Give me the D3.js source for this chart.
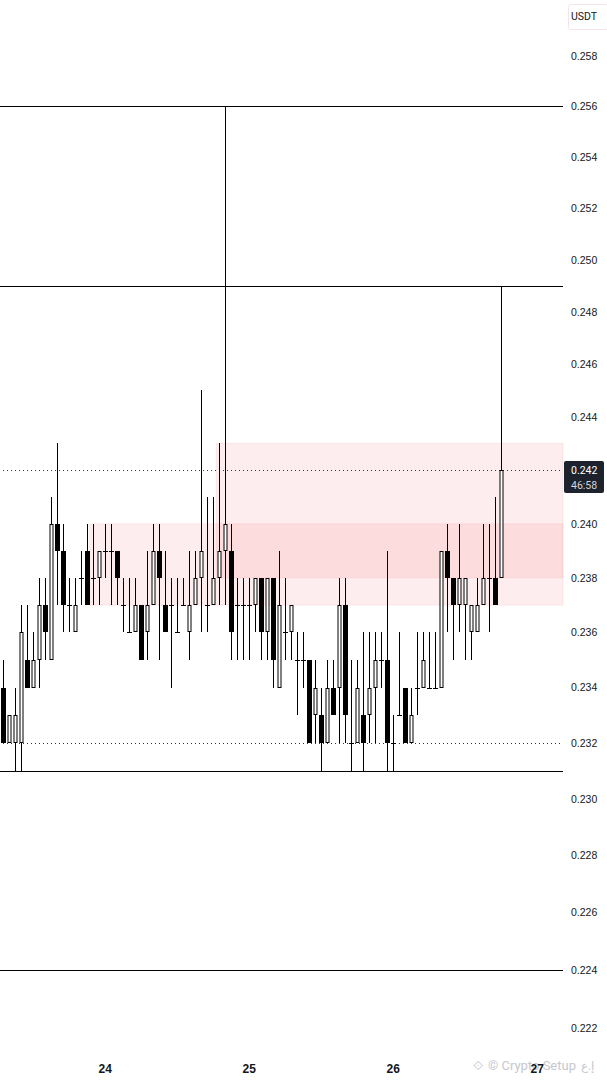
<!DOCTYPE html>
<html>
<head>
<meta charset="utf-8">
<script src="https://cdn.jsdelivr.net/npm/d3@7"></script>
<style>
  html, body { margin: 0; padding: 0; background: #ffffff; }
  svg { display: block; font-family: Roboto, "Liberation Sans", sans-serif; }
</style>
</head>
<body>
<svg id="chart" width="607" height="1080"></svg>
<script>
// hourly candles, index 0 = 23rd 07:00
var opens  = [0.234,0.232,0.232,0.232,0.235,0.234,0.235,0.237,0.235,0.240,0.239,0.237,0.236,0.238,0.239,0.238,0.238,0.239,0.239,0.239,
              0.237,0.236,0.236,0.237,0.236,0.237,0.239,0.237,0.237,0.236,0.237,0.236,0.237,0.238,0.237,0.237,0.238,0.239,0.239,0.237,
              0.237,0.237,0.237,0.238,0.236,0.238,0.234,0.236,0.236,0.235,0.235,0.235,0.233,0.233,0.232,0.234,0.234,0.237,0.232,0.232,
              0.233,0.233,0.234,0.235,0.235,0.232,0.233,0.234,0.232,0.234,0.234,0.234,0.234,0.234,0.239,0.238,0.237,0.237,0.236,0.236,
              0.237,0.238,0.238,0.238]
var highs  = [0.235,0.233,0.234,0.237,0.237,0.236,0.238,0.238,0.241,0.243,0.240,0.238,0.238,0.239,0.240,0.240,0.239,0.240,0.240,0.239,
              0.238,0.238,0.238,0.237,0.239,0.240,0.240,0.239,0.238,0.238,0.238,0.239,0.239,0.245,0.241,0.241,0.243,0.256,0.240,0.238,
              0.238,0.238,0.238,0.238,0.238,0.238,0.239,0.238,0.237,0.236,0.236,0.235,0.235,0.234,0.235,0.235,0.238,0.238,0.235,0.235,
              0.236,0.236,0.236,0.236,0.239,0.233,0.236,0.234,0.234,0.236,0.236,0.236,0.236,0.239,0.240,0.238,0.240,0.238,0.237,0.238,
              0.240,0.240,0.241,0.249]
var lows   = [0.232,0.232,0.231,0.231,0.234,0.234,0.234,0.235,0.235,0.237,0.236,0.236,0.236,0.237,0.237,0.237,0.237,0.238,0.237,0.237,
              0.236,0.236,0.236,0.235,0.235,0.237,0.235,0.236,0.234,0.236,0.237,0.235,0.237,0.236,0.236,0.237,0.237,0.237,0.235,0.235,
              0.235,0.235,0.236,0.235,0.235,0.234,0.234,0.235,0.235,0.233,0.234,0.232,0.232,0.231,0.232,0.233,0.232,0.232,0.231,0.232,
              0.231,0.232,0.232,0.234,0.231,0.231,0.233,0.232,0.232,0.233,0.234,0.234,0.234,0.234,0.236,0.235,0.236,0.235,0.235,0.236,
              0.237,0.236,0.237,0.238]
var closes = [0.232,0.233,0.233,0.236,0.234,0.235,0.237,0.236,0.240,0.239,0.237,0.237,0.237,0.238,0.237,0.238,0.239,0.239,0.239,0.238,
              0.237,0.236,0.237,0.235,0.237,0.239,0.238,0.236,0.237,0.236,0.237,0.237,0.238,0.239,0.237,0.238,0.239,0.240,0.236,0.237,
              0.237,0.237,0.238,0.236,0.238,0.235,0.237,0.236,0.237,0.235,0.235,0.232,0.234,0.232,0.234,0.233,0.237,0.233,0.232,0.234,
              0.232,0.234,0.235,0.235,0.232,0.232,0.233,0.232,0.233,0.234,0.235,0.234,0.234,0.239,0.238,0.237,0.238,0.238,0.237,0.237,
              0.238,0.238,0.237,0.242]

var priceTicks = [0.222,0.224,0.226,0.228,0.230,0.232,0.234,0.236,0.238,0.240,0.242,0.244,0.246,0.248,0.250,0.252,0.254,0.256,0.258]
var hLines = [0.256, 0.249, 0.231, 0.224]
var dottedLines = [0.242, 0.232]
// zones: [start candle index, low, high]
var zones = [[14.5, 0.237, 0.240], [35.6, 0.238, 0.243]]
var lastPrice = 0.242
var countdown = "46:58"

var dimensions = {
    width: 607,
    height: 1080,
    plotRight: 563,
    top: 56,
    bottom: 1028
}

var hour = 3600 * 1000
var t0 = new Date(2024, 0, 23, 7, 0)
var candles = opens.map((o, i) => ({
    t: new Date(t0.getTime() + i * hour),
    o: o, h: highs[i], l: lows[i], c: closes[i]
}))

var svg = d3.select("#chart")

var xScale = d3.scaleTime()
    .domain([new Date(t0.getTime() - 0.45 * hour), new Date(t0.getTime() + 93.38 * hour)])
    .range([0, dimensions.plotRight])

var yScale = d3.scaleLog()
    .domain([0.258, 0.222])
    .range([dimensions.top, dimensions.bottom])

var tOf = k => new Date(t0.getTime() + k * hour)

// zones
svg.append("g")
    .selectAll("rect")
    .data(zones)
    .enter()
    .append("rect")
    .attr("x", d => xScale(tOf(d[0])))
    .attr("y", d => yScale(d[2]))
    .attr("width", d => dimensions.plotRight - xScale(tOf(d[0])))
    .attr("height", d => yScale(d[1]) - yScale(d[2]))
    .attr("fill", "rgba(242, 54, 69, 0.09)")
    .attr("stroke", "rgba(242, 54, 69, 0.08)")

// horizontal levels
svg.append("g")
    .selectAll("line")
    .data(hLines)
    .enter()
    .append("line")
    .attr("x1", 0)
    .attr("x2", dimensions.plotRight)
    .attr("y1", d => Math.round(yScale(d)) + 0.5)
    .attr("y2", d => Math.round(yScale(d)) + 0.5)
    .attr("stroke", "#000")
    .attr("stroke-width", 1)

svg.append("g")
    .selectAll("line")
    .data(dottedLines)
    .enter()
    .append("line")
    .attr("x1", 3)
    .attr("x2", dimensions.plotRight)
    .attr("y1", d => Math.round(yScale(d)) + 0.5)
    .attr("y2", d => Math.round(yScale(d)) + 0.5)
    .attr("stroke", "#333")
    .attr("stroke-width", 1)
    .attr("stroke-dasharray", "1,3")

// candles
var cx = d => Math.round(xScale(d.t)) + 0.5
var candleG = svg.append("g")
    .selectAll(".candle")
    .data(candles)
    .enter()
    .append("g")
    .attr("class", "candle")

candleG.append("line")
    .attr("x1", cx)
    .attr("x2", cx)
    .attr("y1", d => Math.round(yScale(d.h)))
    .attr("y2", d => Math.round(yScale(d.l)))
    .attr("stroke", "#000")
    .attr("stroke-width", 1)

candleG.filter(d => d.c > d.o)
    .append("rect")
    .attr("x", d => cx(d) - 1.5)
    .attr("y", d => Math.round(yScale(d.c)) + 0.5)
    .attr("width", 3)
    .attr("height", d => Math.round(yScale(d.o)) - Math.round(yScale(d.c)) - 1)
    .attr("fill", "#fff")
    .attr("stroke", "#000")
    .attr("stroke-width", 1)

candleG.filter(d => d.c < d.o)
    .append("rect")
    .attr("x", d => cx(d) - 2.5)
    .attr("y", d => Math.round(yScale(d.o)))
    .attr("width", 5)
    .attr("height", d => Math.round(yScale(d.c)) - Math.round(yScale(d.o)))
    .attr("fill", "#000")

candleG.filter(d => d.c == d.o)
    .append("line")
    .attr("x1", d => cx(d) - 2.5)
    .attr("x2", d => cx(d) + 2.5)
    .attr("y1", d => Math.round(yScale(d.o)) + 0.5)
    .attr("y2", d => Math.round(yScale(d.o)) + 0.5)
    .attr("stroke", "#000")
    .attr("stroke-width", 1)

// price axis
var yAxisGen = d3.axisRight(yScale)
    .tickValues(priceTicks.filter(p => p != lastPrice))
    .tickFormat(d3.format(".3f"))
    .tickSize(0)
    .tickPadding(8)
var yAxis = svg.append("g")
    .call(yAxisGen)
    .attr("transform", `translate(${dimensions.plotRight}, 0)`)
yAxis.select(".domain").remove()
yAxis.selectAll("text")
    .attr("fill", "#131722")
    .style("font-size", "10.5px")

// USDT label
svg.append("rect")
    .attr("x", 568.5).attr("y", 4.5)
    .attr("width", 40).attr("height", 25)
    .attr("rx", 3)
    .attr("fill", "#fff")
    .attr("stroke", "#f3e3e6")
svg.append("text")
    .attr("x", 571).attr("y", 20)
    .attr("fill", "#131722")
    .style("font-size", "10.5px")
    .text("USDT")

// last price label
var lp = yScale(lastPrice)
svg.append("rect")
    .attr("x", 564).attr("y", lp - 9)
    .attr("width", 40).attr("height", 32)
    .attr("rx", 2)
    .attr("fill", "#1e222d")
svg.append("text")
    .attr("x", 571).attr("y", lp + 4)
    .attr("fill", "#fff")
    .style("font-size", "10.5px")
    .text(d3.format(".3f")(lastPrice))
svg.append("text")
    .attr("x", 571).attr("y", lp + 19)
    .attr("fill", "#d1d4dc")
    .style("font-size", "10.5px")
    .text(countdown)

// watermark
var wm = svg.append("g").attr("fill", "#c6c8cf").style("font-size", "13px")
wm.append("text").attr("x", 473).attr("y", 1070).text("\u27D0")
wm.append("text").attr("x", 488).attr("y", 1070).text("\u00A9 Crypto Setup")
wm.append("text").attr("x", 581).attr("y", 1070)
    .style("font-size", "12px")
    .text("\u0625.\u0639")

// time axis
var xAxisGen = d3.axisBottom(xScale)
    .ticks(d3.timeDay.every(1))
    .tickFormat(d3.timeFormat("%-d"))
    .tickSize(0)
    .tickPadding(0)
var xAxis = svg.append("g")
    .call(xAxisGen)
    .attr("transform", "translate(0, 1064)")
xAxis.select(".domain").remove()
xAxis.selectAll("text")
    .attr("fill", "#131722")
    .style("font-size", "12px")
    .style("font-weight", "600")
</script>
</body>
</html>
